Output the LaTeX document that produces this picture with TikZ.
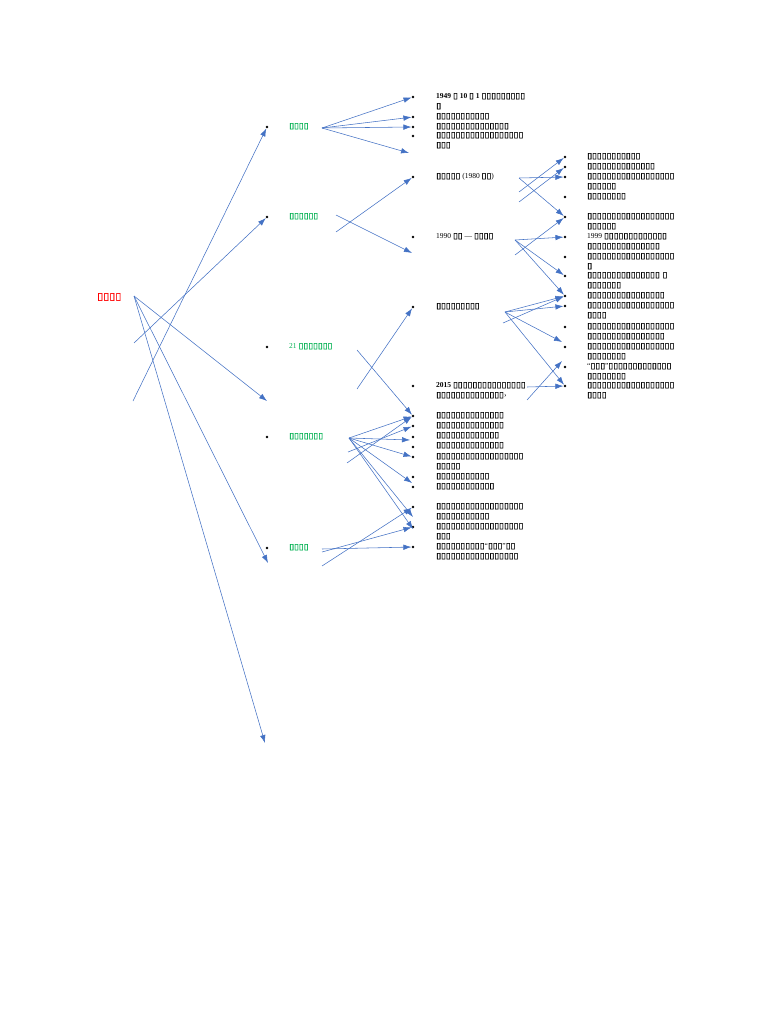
\documentclass[tikz,border=0pt]{standalone}
\usepackage{fontspec}
\setmainfont{Liberation Serif}
\newfontfamily\tofu{DejaVu Sans}[FakeStretch=1.1,FakeBold=0.6]
\newcommand\la[1]{{\rmfamily\fontsize{7.5}{10}\selectfont #1}}
\usetikzlibrary{arrows.meta}
\definecolor{arrblue}{HTML}{4472C4}
\definecolor{headgreen}{HTML}{00B050}
\definecolor{rootred}{HTML}{FF0000}

\begin{document}
\begin{tikzpicture}[x=1pt,y=-1pt,
    arr/.style={draw=arrblue, line width=0.55pt, -{Latex[length=8pt,width=5.5pt]}},
    dot/.style={circle, fill=black, inner sep=0pt, minimum size=2.8pt},
    item/.style={anchor=north west, inner sep=0pt, align=left, font=\tofu\fontsize{8}{10}\selectfont},
    head/.style={item, text=headgreen},
    rootnode/.style={anchor=west, inner sep=0pt, text=rootred, font=\tofu\fontsize{10}{12}\selectfont}]
    \useasboundingbox (0,0) rectangle (768,1024);

    % root and first level
    \node[rootnode] (root) at (97,297) {▯▯▯▯};
    \node[dot] (bA) at (267,127) {};
    \node[dot] (bB) at (267,217) {};
    \node[dot] (bC) at (267,347) {};
    \node[dot] (bD) at (267,437) {};
    \node[dot] (bE) at (267,548) {};
    \node[head] (tA) at (289,123) {▯▯▯▯};
    \node[head] (tB) at (289,213) {▯▯▯▯▯▯};
    \node[head] (tC) at (289,343) {\la{21 }▯▯▯▯▯▯▯};
    \node[head] (tD) at (289,433) {▯▯▯▯▯▯▯};
    \node[head] (tE) at (289,544) {▯▯▯▯};

    % second level
    \begin{scope}[every node/.style={dot}]
      \node (bA1) at (413,97) {};
      \node (bA2) at (413,117) {};
      \node (bA3) at (413,127) {};
      \node (bA4) at (413,136) {};
      \node (bB1) at (413,177) {};
      \node (bB2) at (413,237) {};
      \node (bC1) at (413,307) {};
      \node (bC2) at (413,386) {};
      \node (bD1) at (413,416) {};
      \node (bD2) at (413,426) {};
      \node (bD3) at (413,437) {};
      \node (bD4) at (413,447) {};
      \node (bD5) at (413,457) {};
      \node (bD6) at (413,477) {};
      \node (bD7) at (413,487) {};
      \node (bE1) at (413,507) {};
      \node (bE2) at (413,527) {};
      \node (bE3) at (413,547) {};
    \end{scope}
    \node[item] (tA1) at (436,93) {\la{\bfseries 1949 }▯\la{\bfseries\ 10 }▯\la{\bfseries\ 1 }▯▯▯▯▯▯▯▯▯\\▯};
    \node[item] (tA2) at (436,113) {▯▯▯▯▯▯▯▯▯▯▯};
    \node[item] (tA3) at (436,123) {▯▯▯▯▯▯▯▯▯▯▯▯▯▯▯};
    \node[item] (tA4) at (436,132) {▯▯▯▯▯▯▯▯▯▯▯▯▯▯▯▯▯▯\\▯▯▯};
    \node[item] (tB1) at (436,173) {▯▯▯▯▯\la{ (1980 }▯▯\la{)}};
    \node[item] (tB2) at (436,233) {\la{1990 }▯▯\la{ — }▯▯▯▯};
    \node[item] (tC1) at (436,303) {▯▯▯▯▯▯▯▯▯};
    \node[item] (tC2) at (436,382) {\la{\bfseries 2015 }▯▯▯▯▯▯▯▯▯▯▯▯▯▯▯\\▯▯▯▯▯▯▯▯▯▯▯▯▯▯\la{›}};
    \node[item] (tD1) at (436,412) {▯▯▯▯▯▯▯▯▯▯▯▯▯▯};
    \node[item] (tD2) at (436,422) {▯▯▯▯▯▯▯▯▯▯▯▯▯▯};
    \node[item] (tD3) at (436,432) {▯▯▯▯▯▯▯▯▯▯▯▯▯};
    \node[item] (tD4) at (436,442) {▯▯▯▯▯▯▯▯▯▯▯▯▯▯};
    \node[item] (tD5) at (436,453) {▯▯▯▯▯▯▯▯▯▯▯▯▯▯▯▯▯▯\\▯▯▯▯▯};
    \node[item] (tD6) at (436,473) {▯▯▯▯▯▯▯▯▯▯▯};
    \node[item] (tD7) at (436,483) {▯▯▯▯▯▯▯▯▯▯▯▯};
    \node[item] (tE1) at (436,503) {▯▯▯▯▯▯▯▯▯▯▯▯▯▯▯▯▯▯\\▯▯▯▯▯▯▯▯▯▯▯};
    \node[item] (tE2) at (436,523) {▯▯▯▯▯▯▯▯▯▯▯▯▯▯▯▯▯▯\\▯▯▯};
    \node[item] (tE3) at (436,543) {▯▯▯▯▯▯▯▯▯▯\la{“}▯▯▯\la{”}▯▯\\▯▯▯▯▯▯▯▯▯▯▯▯▯▯▯▯▯};

    % third level
    \begin{scope}[every node/.style={dot}]
      \node (bL1) at (565,157) {};
      \node (bL2) at (565,167) {};
      \node (bL3) at (565,177) {};
      \node (bL4) at (565,197) {};
      \node (bL5) at (565,217) {};
      \node (bL6) at (565,237) {};
      \node (bL7) at (565,257) {};
      \node (bL8) at (565,276) {};
      \node (bL9) at (565,296) {};
      \node (bL10) at (565,306) {};
      \node (bL11) at (565,327) {};
      \node (bL12) at (565,347) {};
      \node (bL13) at (565,367) {};
      \node (bL14) at (565,386) {};
    \end{scope}
    \node[item] (tL1) at (587,153) {▯▯▯▯▯▯▯▯▯▯▯};
    \node[item] (tL2) at (587,163) {▯▯▯▯▯▯▯▯▯▯▯▯▯▯};
    \node[item] (tL3) at (587,173) {▯▯▯▯▯▯▯▯▯▯▯▯▯▯▯▯▯▯\\▯▯▯▯▯▯};
    \node[item] (tL4) at (587,193) {▯▯▯▯▯▯▯▯};
    \node[item] (tL5) at (587,213) {▯▯▯▯▯▯▯▯▯▯▯▯▯▯▯▯▯▯\\▯▯▯▯▯▯};
    \node[item] (tL6) at (587,233) {\la{1999 }▯▯▯▯▯▯▯▯▯▯▯▯▯\\▯▯▯▯▯▯▯▯▯▯▯▯▯▯▯};
    \node[item] (tL7) at (587,253) {▯▯▯▯▯▯▯▯▯▯▯▯▯▯▯▯▯▯\\▯};
    \node[item] (tL8) at (587,272) {▯▯▯▯▯▯▯▯▯▯▯▯▯▯▯ ▯\\▯▯▯▯▯▯▯};
    \node[item] (tL9) at (587,292) {▯▯▯▯▯▯▯▯▯▯▯▯▯▯▯▯};
    \node[item] (tL10) at (587,302) {▯▯▯▯▯▯▯▯▯▯▯▯▯▯▯▯▯▯\\▯▯▯▯};
    \node[item] (tL11) at (587,323) {▯▯▯▯▯▯▯▯▯▯▯▯▯▯▯▯▯▯\\▯▯▯▯▯▯▯▯▯▯▯▯▯▯▯▯};
    \node[item] (tL12) at (587,343) {▯▯▯▯▯▯▯▯▯▯▯▯▯▯▯▯▯▯\\▯▯▯▯▯▯▯▯};
    \node[item] (tL13) at (587,363) {\la{“}▯▯▯\la{”}▯▯▯▯▯▯▯▯▯▯▯▯▯\\▯▯▯▯▯▯▯▯};
    \node[item] (tL14) at (587,382) {▯▯▯▯▯▯▯▯▯▯▯▯▯▯▯▯▯▯\\▯▯▯▯};

    % loose ends of the connectors
    \coordinate (rs) at (134,296);
    \coordinate (s1) at (133,401);
    \coordinate (s2) at (134,343);
    \coordinate (e1) at (267,401);
    \coordinate (e2) at (268,563);
    \coordinate (e3) at (265,743);
    \coordinate (sA) at (322,128);
    \coordinate (eA) at (409,153);
    \coordinate (sB1) at (336,232);
    \coordinate (sB2) at (336,215);
    \coordinate (eB) at (412,253);
    \coordinate (sC1) at (357,389);
    \coordinate (sC2) at (357,350);
    \coordinate (sD) at (349,438);
    \coordinate (sD2) at (348,452);
    \coordinate (sD3) at (347,463);
    \coordinate (eD3) at (410,440);
    \coordinate (eD6) at (412,483);
    \coordinate (eD8) at (413,517);
    \coordinate (eD9) at (413,529);
    \coordinate (sE1) at (322,552);
    \coordinate (sE2) at (322,549);
    \coordinate (sE3) at (322,566);
    \coordinate (sL1) at (519,178);
    \coordinate (sL2) at (519,192);
    \coordinate (sL3) at (519,202);
    \coordinate (sL4) at (515,240);
    \coordinate (sL5) at (515,255);
    \coordinate (sL6) at (505,312);
    \coordinate (sL7) at (503,323);
    \coordinate (sL8) at (527,387);
    \coordinate (sL9) at (527,400);
    \coordinate (eL1) at (562,342);
    \coordinate (eL2) at (562,361);

    % connectors
    \draw [arr] (s1) -- (bA);
    \draw [arr] (s2) -- (bB);
    \draw [arr] (rs) -- (e1);
    \draw [arr] (rs) -- (e2);
    \draw [arr] (rs) -- (e3);

    \draw [arr] (sA) -- (bA1);
    \draw [arr] (sA) -- (bA2);
    \draw [arr] (sA) -- (bA3);
    \draw [arr] (sA) -- (eA);
    \draw [arr] (sB1) -- (bB1);
    \draw [arr] (sB2) -- (eB);
    \draw [arr] (sC1) -- (bC1);
    \draw [arr] (sC2) -- (bD1);
    \draw [arr] (sD) -- (bD1);
    \draw [arr] (sD) -- (eD3);
    \draw [arr] (sD) -- (bD5);
    \draw [arr] (sD) -- (eD6);
    \draw [arr] (sD) -- (eD8);
    \draw [arr] (sD) -- (eD9);
    \draw [arr] (sD2) -- (bD2);
    \draw [arr] (sD3) -- (bD1);
    \draw [arr] (sE1) -- (bE2);
    \draw [arr] (sE2) -- (bE3);
    \draw [arr] (sE3) -- (bE1);

    \draw [arr] (sL1) -- (bL3);
    \draw [arr] (sL1) -- (bL5);
    \draw [arr] (sL2) -- (bL1);
    \draw [arr] (sL3) -- (bL2);
    \draw [arr] (sL4) -- (bL6);
    \draw [arr] (sL4) -- (bL8);
    \draw [arr] (sL4) -- (bL9);
    \draw [arr] (sL5) -- (bL5);
    \draw [arr] (sL6) -- (bL9);
    \draw [arr] (sL6) -- (bL10);
    \draw [arr] (sL6) -- (eL1);
    \draw [arr] (sL6) -- (bL14);
    \draw [arr] (sL7) -- (bL9);
    \draw [arr] (sL8) -- (bL14);
    \draw [arr] (sL9) -- (eL2);
\end{tikzpicture}
\end{document}
